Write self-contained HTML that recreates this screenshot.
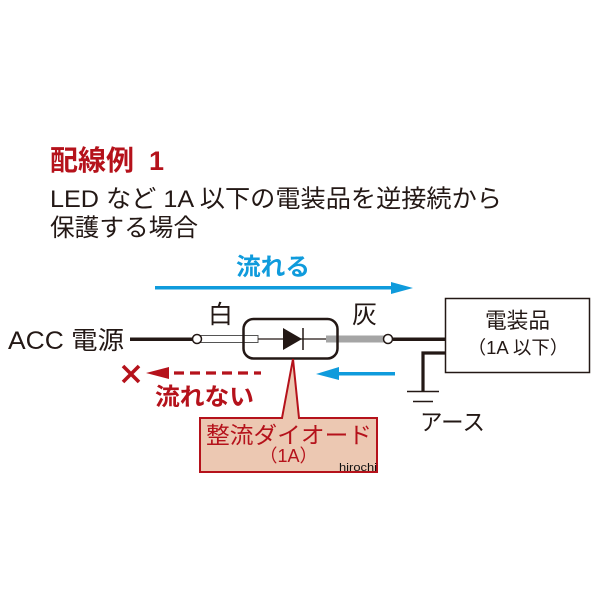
<!DOCTYPE html>
<html><head><meta charset="utf-8"><style>
html,body{margin:0;padding:0;background:#fff;width:600px;height:600px;overflow:hidden}
</style></head><body>
<svg width="600" height="600" viewBox="0 0 600 600" xmlns="http://www.w3.org/2000/svg" style="display:block;font-family:'Liberation Sans','Noto Sans CJK JP',sans-serif">
<text x="50" y="170" font-size="28" font-weight="700" fill="#b5121b">配線例</text>
<text x="149" y="170" font-size="27" font-weight="700" fill="#b5121b">1</text>
<text x="50" y="207" font-size="24.5" fill="#231815" textLength="452" lengthAdjust="spacingAndGlyphs">LED など 1A 以下の電装品を逆接続から</text>
<text x="50" y="236" font-size="24.5" fill="#231815" textLength="148" lengthAdjust="spacingAndGlyphs">保護する場合</text>
<text x="236" y="275" font-size="24" font-weight="700" fill="#0f9bdc" textLength="74" lengthAdjust="spacingAndGlyphs">流れる</text>
<rect x="155" y="286" width="237" height="3.5" fill="#0f9bdc"/>
<polygon points="391,282 413,288 391,294" fill="#0f9bdc"/>
<text x="8" y="349" font-size="25" fill="#231815" textLength="116" lengthAdjust="spacingAndGlyphs">ACC 電源</text>
<text x="208" y="323" font-size="25" fill="#231815">白</text>
<text x="352" y="323" font-size="25" fill="#231815">灰</text>
<rect x="130" y="337.5" width="66" height="3.5" fill="#231815"/>
<rect x="201" y="335.5" width="57" height="7" fill="#fff" stroke="#555" stroke-width="1"/>
<rect x="326" y="335.5" width="58" height="7" fill="#a5a5a5"/>
<line x1="258" y1="339" x2="326" y2="339" stroke="#231815" stroke-width="1.3"/>
<polygon points="283,328 283,350 302,339" fill="#231815"/>
<line x1="303" y1="328" x2="303" y2="350" stroke="#231815" stroke-width="1.5"/>
<rect x="243.5" y="319" width="94" height="39.5" rx="10" fill="none" stroke="#231815" stroke-width="2.5"/>
<circle cx="197" cy="339" r="4.5" fill="#fff" stroke="#231815" stroke-width="1.5"/>
<circle cx="388" cy="339" r="4.5" fill="#fff" stroke="#231815" stroke-width="1.5"/>
<rect x="393" y="337.5" width="53" height="3.5" fill="#231815"/>
<rect x="445.5" y="298.5" width="144" height="74" fill="#fff" stroke="#231815" stroke-width="1.5"/>
<text x="485" y="328" font-size="21.5" fill="#231815" textLength="65" lengthAdjust="spacingAndGlyphs">電装品</text>
<text x="518" y="354" font-size="18.5" fill="#231815" text-anchor="middle">（1A 以下）</text>
<polyline points="445,353 423,353 423,391" fill="none" stroke="#231815" stroke-width="3.2"/>
<line x1="407" y1="391.5" x2="439" y2="391.5" stroke="#231815" stroke-width="1.6"/>
<line x1="413" y1="401.5" x2="433" y2="401.5" stroke="#231815" stroke-width="1.6"/>
<text x="420" y="430" font-size="23" fill="#231815" textLength="65" lengthAdjust="spacingAndGlyphs">アース</text>
<rect x="336" y="372" width="59" height="3.5" fill="#0f9bdc"/>
<polygon points="316,374 339,367 339,380" fill="#0f9bdc"/>
<path d="M123 366 L139 382 M139 366 L123 382" stroke="#b5121b" stroke-width="3.6" fill="none"/>
<polygon points="146,373 169,367 169,379" fill="#b5121b"/>
<line x1="174" y1="373" x2="261" y2="373" stroke="#b5121b" stroke-width="3.2" stroke-dasharray="10 6"/>
<text x="155" y="405" font-size="24" font-weight="700" fill="#b5121b" textLength="99" lengthAdjust="spacingAndGlyphs">流れない</text>
<path d="M200 418 L282 418 L293 359 L299 418 L377 418 L377 472 L200 472 Z" fill="#ecc8b2" stroke="#b5121b" stroke-width="2"/>
<text x="206" y="443" font-size="23" fill="#b5121b" textLength="166" lengthAdjust="spacingAndGlyphs">整流ダイオード</text>
<text x="288.5" y="462" font-size="18" fill="#b5121b" text-anchor="middle">（1A）</text>
<text x="339" y="471" font-size="11" fill="#111" textLength="38" lengthAdjust="spacingAndGlyphs">hirochi</text>
</svg>
</body></html>
